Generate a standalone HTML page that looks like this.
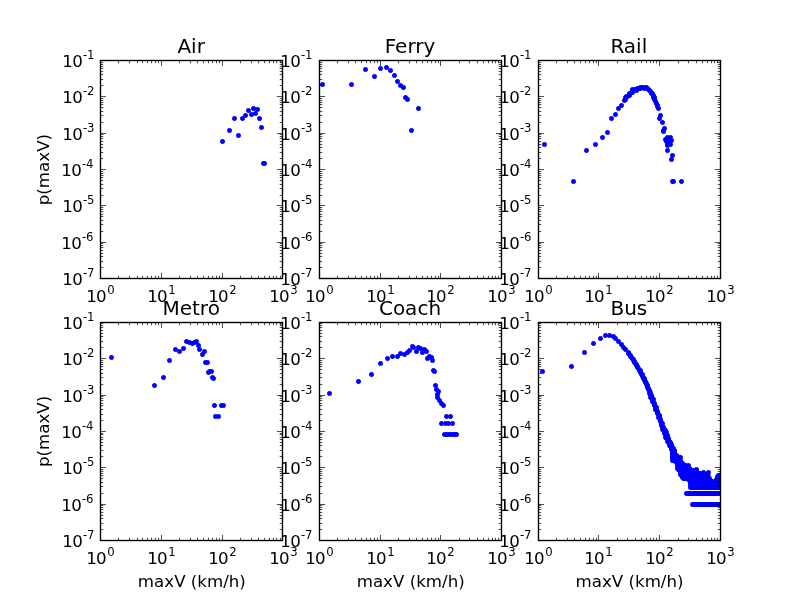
<!DOCTYPE html><html><head><meta charset="utf-8"><title>p(maxV) by mode</title><style>html,body{margin:0;padding:0;background:#fff}svg{display:block}text{font-family:"DejaVu Sans","Liberation Sans",sans-serif;fill:#000}</style></head><body>
<svg width="800" height="600" viewBox="0 0 800 600">
<rect width="800" height="600" fill="#fff"/>
<defs><g id="d" fill="#00f"><rect x="-1" y="-1" width="3" height="3"/><rect x="-1" y="-2" width="1" height="1" fill-opacity="0.769"/><rect x="1" y="-2" width="1" height="1" fill-opacity="0.769"/><rect x="0" y="-2" width="1" height="1" fill-opacity="0.867"/><rect x="-1" y="2" width="1" height="1" fill-opacity="0.769"/><rect x="1" y="2" width="1" height="1" fill-opacity="0.769"/><rect x="0" y="2" width="1" height="1" fill-opacity="0.867"/><rect x="-2" y="-1" width="1" height="1" fill-opacity="0.769"/><rect x="-2" y="1" width="1" height="1" fill-opacity="0.769"/><rect x="-2" y="0" width="1" height="1" fill-opacity="0.867"/><rect x="2" y="-1" width="1" height="1" fill-opacity="0.769"/><rect x="2" y="1" width="1" height="1" fill-opacity="0.769"/><rect x="2" y="0" width="1" height="1" fill-opacity="0.867"/><rect x="-2" y="-2" width="1" height="1" fill-opacity="0.086"/><rect x="2" y="-2" width="1" height="1" fill-opacity="0.086"/><rect x="-2" y="2" width="1" height="1" fill-opacity="0.086"/><rect x="2" y="2" width="1" height="1" fill-opacity="0.086"/></g></defs>
<clipPath id="c0"><rect x="100" y="60" width="182.353" height="218.182"/></clipPath>
<g clip-path="url(#c0)"><use href="#d" x="222" y="141"/><use href="#d" x="229" y="130"/><use href="#d" x="234" y="118"/><use href="#d" x="238" y="135"/><use href="#d" x="242" y="118"/><use href="#d" x="245" y="115"/><use href="#d" x="248" y="110"/><use href="#d" x="251" y="114"/><use href="#d" x="253" y="108"/><use href="#d" x="255" y="113"/><use href="#d" x="257" y="109"/><use href="#d" x="259" y="118"/><use href="#d" x="261" y="127"/><use href="#d" x="263" y="163"/><use href="#d" x="264" y="163"/></g>
<path fill="none" stroke="#000" stroke-width="0.694" d="M100.5 278.5L100.5 272.94M100.5 60.5L100.5 66.06M118.5 278.5L118.5 275.72M118.5 60.5L118.5 63.28M129.5 278.5L129.5 275.72M129.5 60.5L129.5 63.28M137.5 278.5L137.5 275.72M137.5 60.5L137.5 63.28M142.5 278.5L142.5 275.72M142.5 60.5L142.5 63.28M147.5 278.5L147.5 275.72M147.5 60.5L147.5 63.28M151.5 278.5L151.5 275.72M151.5 60.5L151.5 63.28M155.5 278.5L155.5 275.72M155.5 60.5L155.5 63.28M158.5 278.5L158.5 275.72M158.5 60.5L158.5 63.28M161.5 278.5L161.5 272.94M161.5 60.5L161.5 66.06M179.5 278.5L179.5 275.72M179.5 60.5L179.5 63.28M190.5 278.5L190.5 275.72M190.5 60.5L190.5 63.28M197.5 278.5L197.5 275.72M197.5 60.5L197.5 63.28M203.5 278.5L203.5 275.72M203.5 60.5L203.5 63.28M208.5 278.5L208.5 275.72M208.5 60.5L208.5 63.28M212.5 278.5L212.5 275.72M212.5 60.5L212.5 63.28M216.5 278.5L216.5 275.72M216.5 60.5L216.5 63.28M219.5 278.5L219.5 275.72M219.5 60.5L219.5 63.28M222.5 278.5L222.5 272.94M222.5 60.5L222.5 66.06M240.5 278.5L240.5 275.72M240.5 60.5L240.5 63.28M251.5 278.5L251.5 275.72M251.5 60.5L251.5 63.28M258.5 278.5L258.5 275.72M258.5 60.5L258.5 63.28M264.5 278.5L264.5 275.72M264.5 60.5L264.5 63.28M269.5 278.5L269.5 275.72M269.5 60.5L269.5 63.28M273.5 278.5L273.5 275.72M273.5 60.5L273.5 63.28M276.5 278.5L276.5 275.72M276.5 60.5L276.5 63.28M280.5 278.5L280.5 275.72M280.5 60.5L280.5 63.28M282.5 278.5L282.5 272.94M282.5 60.5L282.5 66.06M100.5 278.5L106.06 278.5M282.5 278.5L276.94 278.5M100.5 267.5L103.28 267.5M282.5 267.5L279.72 267.5M100.5 261.5L103.28 261.5M282.5 261.5L279.72 261.5M100.5 256.5L103.28 256.5M282.5 256.5L279.72 256.5M100.5 253.5L103.28 253.5M282.5 253.5L279.72 253.5M100.5 250.5L103.28 250.5M282.5 250.5L279.72 250.5M100.5 247.5L103.28 247.5M282.5 247.5L279.72 247.5M100.5 245.5L103.28 245.5M282.5 245.5L279.72 245.5M100.5 243.5L103.28 243.5M282.5 243.5L279.72 243.5M100.5 242.5L106.06 242.5M282.5 242.5L276.94 242.5M100.5 231.5L103.28 231.5M282.5 231.5L279.72 231.5M100.5 224.5L103.28 224.5M282.5 224.5L279.72 224.5M100.5 220.5L103.28 220.5M282.5 220.5L279.72 220.5M100.5 216.5L103.28 216.5M282.5 216.5L279.72 216.5M100.5 214.5L103.28 214.5M282.5 214.5L279.72 214.5M100.5 211.5L103.28 211.5M282.5 211.5L279.72 211.5M100.5 209.5L103.28 209.5M282.5 209.5L279.72 209.5M100.5 207.5L103.28 207.5M282.5 207.5L279.72 207.5M100.5 205.5L106.06 205.5M282.5 205.5L276.94 205.5M100.5 195.5L103.28 195.5M282.5 195.5L279.72 195.5M100.5 188.5L103.28 188.5M282.5 188.5L279.72 188.5M100.5 184.5L103.28 184.5M282.5 184.5L279.72 184.5M100.5 180.5L103.28 180.5M282.5 180.5L279.72 180.5M100.5 177.5L103.28 177.5M282.5 177.5L279.72 177.5M100.5 175.5L103.28 175.5M282.5 175.5L279.72 175.5M100.5 173.5L103.28 173.5M282.5 173.5L279.72 173.5M100.5 171.5L103.28 171.5M282.5 171.5L279.72 171.5M100.5 169.5L106.06 169.5M282.5 169.5L276.94 169.5M100.5 158.5L103.28 158.5M282.5 158.5L279.72 158.5M100.5 152.5L103.28 152.5M282.5 152.5L279.72 152.5M100.5 147.5L103.28 147.5M282.5 147.5L279.72 147.5M100.5 144.5L103.28 144.5M282.5 144.5L279.72 144.5M100.5 141.5L103.28 141.5M282.5 141.5L279.72 141.5M100.5 138.5L103.28 138.5M282.5 138.5L279.72 138.5M100.5 136.5L103.28 136.5M282.5 136.5L279.72 136.5M100.5 134.5L103.28 134.5M282.5 134.5L279.72 134.5M100.5 133.5L106.06 133.5M282.5 133.5L276.94 133.5M100.5 122.5L103.28 122.5M282.5 122.5L279.72 122.5M100.5 115.5L103.28 115.5M282.5 115.5L279.72 115.5M100.5 111.5L103.28 111.5M282.5 111.5L279.72 111.5M100.5 107.5L103.28 107.5M282.5 107.5L279.72 107.5M100.5 104.5L103.28 104.5M282.5 104.5L279.72 104.5M100.5 102.5L103.28 102.5M282.5 102.5L279.72 102.5M100.5 100.5L103.28 100.5M282.5 100.5L279.72 100.5M100.5 98.5L103.28 98.5M282.5 98.5L279.72 98.5M100.5 96.5L106.06 96.5M282.5 96.5L276.94 96.5M100.5 85.5L103.28 85.5M282.5 85.5L279.72 85.5M100.5 79.5L103.28 79.5M282.5 79.5L279.72 79.5M100.5 74.5L103.28 74.5M282.5 74.5L279.72 74.5M100.5 71.5L103.28 71.5M282.5 71.5L279.72 71.5M100.5 68.5L103.28 68.5M282.5 68.5L279.72 68.5M100.5 66.5L103.28 66.5M282.5 66.5L279.72 66.5M100.5 64.5L103.28 64.5M282.5 64.5L279.72 64.5M100.5 62.5L103.28 62.5M282.5 62.5L279.72 62.5M100.5 60.5L106.06 60.5M282.5 60.5L276.94 60.5"/>
<rect x="100.5" y="60.5" width="182" height="218" fill="none" stroke="#000" stroke-width="1.389"/>
<text x="94.5" y="285.25" text-anchor="end" font-size="16.67">1<tspan dx="-0.5">0</tspan><tspan font-size="11.67" dy="-8" dx="0">-7</tspan></text>
<text x="93.5" y="249.25" text-anchor="end" font-size="16.67">1<tspan dx="-0.5">0</tspan><tspan font-size="11.67" dy="-8" dx="0">-6</tspan></text>
<text x="94.5" y="212.25" text-anchor="end" font-size="16.67">1<tspan dx="-0.5">0</tspan><tspan font-size="11.67" dy="-8" dx="0">-5</tspan></text>
<text x="93.5" y="176.25" text-anchor="end" font-size="16.67">1<tspan dx="-0.5">0</tspan><tspan font-size="11.67" dy="-8" dx="0">-4</tspan></text>
<text x="94.5" y="140.25" text-anchor="end" font-size="16.67">1<tspan dx="-0.5">0</tspan><tspan font-size="11.67" dy="-8" dx="0">-3</tspan></text>
<text x="94.5" y="103.25" text-anchor="end" font-size="16.67">1<tspan dx="-0.5">0</tspan><tspan font-size="11.67" dy="-8" dx="0">-2</tspan></text>
<text x="94.5" y="67.25" text-anchor="end" font-size="16.67">1<tspan dx="-0.5">0</tspan><tspan font-size="11.67" dy="-8" dx="0">-1</tspan></text>
<text x="100.5" y="302.4" text-anchor="middle" font-size="16.67">1<tspan dx="-0.8">0</tspan><tspan font-size="11.67" dy="-8" dx="0.65">0</tspan></text>
<text x="161.5" y="302.4" text-anchor="middle" font-size="16.67">1<tspan dx="-0.8">0</tspan><tspan font-size="11.67" dy="-8" dx="0.65">1</tspan></text>
<text x="222.5" y="302.4" text-anchor="middle" font-size="16.67">1<tspan dx="-0.8">0</tspan><tspan font-size="11.67" dy="-8" dx="0.65">2</tspan></text>
<text x="283.4" y="302.4" text-anchor="middle" font-size="16.67">1<tspan dx="-0.8">0</tspan><tspan font-size="11.67" dy="-8" dx="0.65">3</tspan></text>
<text x="191.176" y="52.9" text-anchor="middle" font-size="20">Air</text>
<text transform="translate(48.5 169.591) rotate(-90)" text-anchor="middle" font-size="16.67">p(maxV)</text>
<clipPath id="c1"><rect x="318.824" y="60" width="182.353" height="218.182"/></clipPath>
<g clip-path="url(#c1)"><use href="#d" x="322" y="84"/><use href="#d" x="351" y="84"/><use href="#d" x="365" y="69"/><use href="#d" x="374" y="76"/><use href="#d" x="380" y="68"/><use href="#d" x="386" y="67"/><use href="#d" x="390" y="70"/><use href="#d" x="394" y="75"/><use href="#d" x="397" y="81"/><use href="#d" x="400" y="85"/><use href="#d" x="403" y="87"/><use href="#d" x="405" y="97"/><use href="#d" x="407" y="99"/><use href="#d" x="411" y="130"/><use href="#d" x="418" y="108"/></g>
<path fill="none" stroke="#000" stroke-width="0.694" d="M319.5 278.5L319.5 272.94M319.5 60.5L319.5 66.06M337.5 278.5L337.5 275.72M337.5 60.5L337.5 63.28M348.5 278.5L348.5 275.72M348.5 60.5L348.5 63.28M355.5 278.5L355.5 275.72M355.5 60.5L355.5 63.28M361.5 278.5L361.5 275.72M361.5 60.5L361.5 63.28M366.5 278.5L366.5 275.72M366.5 60.5L366.5 63.28M370.5 278.5L370.5 275.72M370.5 60.5L370.5 63.28M374.5 278.5L374.5 275.72M374.5 60.5L374.5 63.28M377.5 278.5L377.5 275.72M377.5 60.5L377.5 63.28M380.5 278.5L380.5 272.94M380.5 60.5L380.5 66.06M398.5 278.5L398.5 275.72M398.5 60.5L398.5 63.28M409.5 278.5L409.5 275.72M409.5 60.5L409.5 63.28M416.5 278.5L416.5 275.72M416.5 60.5L416.5 63.28M422.5 278.5L422.5 275.72M422.5 60.5L422.5 63.28M427.5 278.5L427.5 275.72M427.5 60.5L427.5 63.28M431.5 278.5L431.5 275.72M431.5 60.5L431.5 63.28M435.5 278.5L435.5 275.72M435.5 60.5L435.5 63.28M438.5 278.5L438.5 275.72M438.5 60.5L438.5 63.28M440.5 278.5L440.5 272.94M440.5 60.5L440.5 66.06M459.5 278.5L459.5 275.72M459.5 60.5L459.5 63.28M469.5 278.5L469.5 275.72M469.5 60.5L469.5 63.28M477.5 278.5L477.5 275.72M477.5 60.5L477.5 63.28M483.5 278.5L483.5 275.72M483.5 60.5L483.5 63.28M488.5 278.5L488.5 275.72M488.5 60.5L488.5 63.28M492.5 278.5L492.5 275.72M492.5 60.5L492.5 63.28M495.5 278.5L495.5 275.72M495.5 60.5L495.5 63.28M498.5 278.5L498.5 275.72M498.5 60.5L498.5 63.28M501.5 278.5L501.5 272.94M501.5 60.5L501.5 66.06M319.5 278.5L325.06 278.5M501.5 278.5L495.94 278.5M319.5 267.5L322.28 267.5M501.5 267.5L498.72 267.5M319.5 261.5L322.28 261.5M501.5 261.5L498.72 261.5M319.5 256.5L322.28 256.5M501.5 256.5L498.72 256.5M319.5 253.5L322.28 253.5M501.5 253.5L498.72 253.5M319.5 250.5L322.28 250.5M501.5 250.5L498.72 250.5M319.5 247.5L322.28 247.5M501.5 247.5L498.72 247.5M319.5 245.5L322.28 245.5M501.5 245.5L498.72 245.5M319.5 243.5L322.28 243.5M501.5 243.5L498.72 243.5M319.5 242.5L325.06 242.5M501.5 242.5L495.94 242.5M319.5 231.5L322.28 231.5M501.5 231.5L498.72 231.5M319.5 224.5L322.28 224.5M501.5 224.5L498.72 224.5M319.5 220.5L322.28 220.5M501.5 220.5L498.72 220.5M319.5 216.5L322.28 216.5M501.5 216.5L498.72 216.5M319.5 214.5L322.28 214.5M501.5 214.5L498.72 214.5M319.5 211.5L322.28 211.5M501.5 211.5L498.72 211.5M319.5 209.5L322.28 209.5M501.5 209.5L498.72 209.5M319.5 207.5L322.28 207.5M501.5 207.5L498.72 207.5M319.5 205.5L325.06 205.5M501.5 205.5L495.94 205.5M319.5 195.5L322.28 195.5M501.5 195.5L498.72 195.5M319.5 188.5L322.28 188.5M501.5 188.5L498.72 188.5M319.5 184.5L322.28 184.5M501.5 184.5L498.72 184.5M319.5 180.5L322.28 180.5M501.5 180.5L498.72 180.5M319.5 177.5L322.28 177.5M501.5 177.5L498.72 177.5M319.5 175.5L322.28 175.5M501.5 175.5L498.72 175.5M319.5 173.5L322.28 173.5M501.5 173.5L498.72 173.5M319.5 171.5L322.28 171.5M501.5 171.5L498.72 171.5M319.5 169.5L325.06 169.5M501.5 169.5L495.94 169.5M319.5 158.5L322.28 158.5M501.5 158.5L498.72 158.5M319.5 152.5L322.28 152.5M501.5 152.5L498.72 152.5M319.5 147.5L322.28 147.5M501.5 147.5L498.72 147.5M319.5 144.5L322.28 144.5M501.5 144.5L498.72 144.5M319.5 141.5L322.28 141.5M501.5 141.5L498.72 141.5M319.5 138.5L322.28 138.5M501.5 138.5L498.72 138.5M319.5 136.5L322.28 136.5M501.5 136.5L498.72 136.5M319.5 134.5L322.28 134.5M501.5 134.5L498.72 134.5M319.5 133.5L325.06 133.5M501.5 133.5L495.94 133.5M319.5 122.5L322.28 122.5M501.5 122.5L498.72 122.5M319.5 115.5L322.28 115.5M501.5 115.5L498.72 115.5M319.5 111.5L322.28 111.5M501.5 111.5L498.72 111.5M319.5 107.5L322.28 107.5M501.5 107.5L498.72 107.5M319.5 104.5L322.28 104.5M501.5 104.5L498.72 104.5M319.5 102.5L322.28 102.5M501.5 102.5L498.72 102.5M319.5 100.5L322.28 100.5M501.5 100.5L498.72 100.5M319.5 98.5L322.28 98.5M501.5 98.5L498.72 98.5M319.5 96.5L325.06 96.5M501.5 96.5L495.94 96.5M319.5 85.5L322.28 85.5M501.5 85.5L498.72 85.5M319.5 79.5L322.28 79.5M501.5 79.5L498.72 79.5M319.5 74.5L322.28 74.5M501.5 74.5L498.72 74.5M319.5 71.5L322.28 71.5M501.5 71.5L498.72 71.5M319.5 68.5L322.28 68.5M501.5 68.5L498.72 68.5M319.5 66.5L322.28 66.5M501.5 66.5L498.72 66.5M319.5 64.5L322.28 64.5M501.5 64.5L498.72 64.5M319.5 62.5L322.28 62.5M501.5 62.5L498.72 62.5M319.5 60.5L325.06 60.5M501.5 60.5L495.94 60.5"/>
<rect x="319.5" y="60.5" width="182" height="218" fill="none" stroke="#000" stroke-width="1.389"/>
<text x="312.5" y="285.25" text-anchor="end" font-size="16.67">1<tspan dx="-0.5">0</tspan><tspan font-size="11.67" dy="-8" dx="0">-7</tspan></text>
<text x="312.5" y="249.25" text-anchor="end" font-size="16.67">1<tspan dx="-0.5">0</tspan><tspan font-size="11.67" dy="-8" dx="0">-6</tspan></text>
<text x="312.5" y="212.25" text-anchor="end" font-size="16.67">1<tspan dx="-0.5">0</tspan><tspan font-size="11.67" dy="-8" dx="0">-5</tspan></text>
<text x="312.5" y="176.25" text-anchor="end" font-size="16.67">1<tspan dx="-0.5">0</tspan><tspan font-size="11.67" dy="-8" dx="0">-4</tspan></text>
<text x="312.5" y="140.25" text-anchor="end" font-size="16.67">1<tspan dx="-0.5">0</tspan><tspan font-size="11.67" dy="-8" dx="0">-3</tspan></text>
<text x="312.5" y="103.25" text-anchor="end" font-size="16.67">1<tspan dx="-0.5">0</tspan><tspan font-size="11.67" dy="-8" dx="0">-2</tspan></text>
<text x="312.5" y="67.25" text-anchor="end" font-size="16.67">1<tspan dx="-0.5">0</tspan><tspan font-size="11.67" dy="-8" dx="0">-1</tspan></text>
<text x="319.5" y="302.4" text-anchor="middle" font-size="16.67">1<tspan dx="-0.8">0</tspan><tspan font-size="11.67" dy="-8" dx="0.65">0</tspan></text>
<text x="380.5" y="302.4" text-anchor="middle" font-size="16.67">1<tspan dx="-0.8">0</tspan><tspan font-size="11.67" dy="-8" dx="0.65">1</tspan></text>
<text x="440.5" y="302.4" text-anchor="middle" font-size="16.67">1<tspan dx="-0.8">0</tspan><tspan font-size="11.67" dy="-8" dx="0.65">2</tspan></text>
<text x="501.5" y="302.4" text-anchor="middle" font-size="16.67">1<tspan dx="-0.8">0</tspan><tspan font-size="11.67" dy="-8" dx="0.65">3</tspan></text>
<text x="410" y="52.9" text-anchor="middle" font-size="20">Ferry</text>
<clipPath id="c2"><rect x="537.647" y="60" width="182.353" height="218.182"/></clipPath>
<g clip-path="url(#c2)"><use href="#d" x="544" y="144"/><use href="#d" x="573" y="181"/><use href="#d" x="586" y="150"/><use href="#d" x="595" y="144"/><use href="#d" x="602" y="137"/><use href="#d" x="607" y="132"/><use href="#d" x="611" y="118"/><use href="#d" x="615" y="114"/><use href="#d" x="618" y="108"/><use href="#d" x="621" y="105"/><use href="#d" x="624" y="100"/><use href="#d" x="625" y="97"/><use href="#d" x="625" y="99"/><use href="#d" x="626" y="96"/><use href="#d" x="627" y="96"/><use href="#d" x="629" y="93"/><use href="#d" x="629" y="94"/><use href="#d" x="629" y="95"/><use href="#d" x="631" y="92"/><use href="#d" x="632" y="89"/><use href="#d" x="632" y="90"/><use href="#d" x="632" y="92"/><use href="#d" x="634" y="89"/><use href="#d" x="636" y="89"/><use href="#d" x="636" y="90"/><use href="#d" x="637" y="88"/><use href="#d" x="638" y="88"/><use href="#d" x="640" y="87"/><use href="#d" x="640" y="88"/><use href="#d" x="641" y="87"/><use href="#d" x="642" y="87"/><use href="#d" x="644" y="88"/><use href="#d" x="645" y="87"/><use href="#d" x="646" y="87"/><use href="#d" x="647" y="88"/><use href="#d" x="648" y="89"/><use href="#d" x="649" y="90"/><use href="#d" x="650" y="91"/><use href="#d" x="651" y="93"/><use href="#d" x="652" y="93"/><use href="#d" x="653" y="95"/><use href="#d" x="653" y="97"/><use href="#d" x="654" y="97"/><use href="#d" x="654" y="99"/><use href="#d" x="655" y="101"/><use href="#d" x="656" y="103"/><use href="#d" x="657" y="105"/><use href="#d" x="657" y="106"/><use href="#d" x="658" y="108"/><use href="#d" x="659" y="118"/><use href="#d" x="660" y="115"/><use href="#d" x="662" y="122"/><use href="#d" x="663" y="130"/><use href="#d" x="663" y="131"/><use href="#d" x="664" y="128"/><use href="#d" x="665" y="139"/><use href="#d" x="666" y="141"/><use href="#d" x="667" y="137"/><use href="#d" x="667" y="144"/><use href="#d" x="667" y="145"/><use href="#d" x="667" y="150"/><use href="#d" x="668" y="139"/><use href="#d" x="669" y="142"/><use href="#d" x="670" y="137"/><use href="#d" x="670" y="144"/><use href="#d" x="671" y="140"/><use href="#d" x="671" y="159"/><use href="#d" x="672" y="155"/><use href="#d" x="672" y="181"/><use href="#d" x="673" y="181"/><use href="#d" x="681" y="181"/></g>
<path fill="none" stroke="#000" stroke-width="0.694" d="M538.5 278.5L538.5 272.94M538.5 60.5L538.5 66.06M556.5 278.5L556.5 275.72M556.5 60.5L556.5 63.28M567.5 278.5L567.5 275.72M567.5 60.5L567.5 63.28M574.5 278.5L574.5 275.72M574.5 60.5L574.5 63.28M580.5 278.5L580.5 275.72M580.5 60.5L580.5 63.28M585.5 278.5L585.5 275.72M585.5 60.5L585.5 63.28M589.5 278.5L589.5 275.72M589.5 60.5L589.5 63.28M593.5 278.5L593.5 275.72M593.5 60.5L593.5 63.28M596.5 278.5L596.5 275.72M596.5 60.5L596.5 63.28M598.5 278.5L598.5 272.94M598.5 60.5L598.5 66.06M617.5 278.5L617.5 275.72M617.5 60.5L617.5 63.28M627.5 278.5L627.5 275.72M627.5 60.5L627.5 63.28M635.5 278.5L635.5 275.72M635.5 60.5L635.5 63.28M641.5 278.5L641.5 275.72M641.5 60.5L641.5 63.28M646.5 278.5L646.5 275.72M646.5 60.5L646.5 63.28M650.5 278.5L650.5 275.72M650.5 60.5L650.5 63.28M653.5 278.5L653.5 275.72M653.5 60.5L653.5 63.28M656.5 278.5L656.5 275.72M656.5 60.5L656.5 63.28M659.5 278.5L659.5 272.94M659.5 60.5L659.5 66.06M678.5 278.5L678.5 275.72M678.5 60.5L678.5 63.28M688.5 278.5L688.5 275.72M688.5 60.5L688.5 63.28M696.5 278.5L696.5 275.72M696.5 60.5L696.5 63.28M702.5 278.5L702.5 275.72M702.5 60.5L702.5 63.28M707.5 278.5L707.5 275.72M707.5 60.5L707.5 63.28M711.5 278.5L711.5 275.72M711.5 60.5L711.5 63.28M714.5 278.5L714.5 275.72M714.5 60.5L714.5 63.28M717.5 278.5L717.5 275.72M717.5 60.5L717.5 63.28M720.5 278.5L720.5 272.94M720.5 60.5L720.5 66.06M538.5 278.5L544.06 278.5M720.5 278.5L714.94 278.5M538.5 267.5L541.28 267.5M720.5 267.5L717.72 267.5M538.5 261.5L541.28 261.5M720.5 261.5L717.72 261.5M538.5 256.5L541.28 256.5M720.5 256.5L717.72 256.5M538.5 253.5L541.28 253.5M720.5 253.5L717.72 253.5M538.5 250.5L541.28 250.5M720.5 250.5L717.72 250.5M538.5 247.5L541.28 247.5M720.5 247.5L717.72 247.5M538.5 245.5L541.28 245.5M720.5 245.5L717.72 245.5M538.5 243.5L541.28 243.5M720.5 243.5L717.72 243.5M538.5 242.5L544.06 242.5M720.5 242.5L714.94 242.5M538.5 231.5L541.28 231.5M720.5 231.5L717.72 231.5M538.5 224.5L541.28 224.5M720.5 224.5L717.72 224.5M538.5 220.5L541.28 220.5M720.5 220.5L717.72 220.5M538.5 216.5L541.28 216.5M720.5 216.5L717.72 216.5M538.5 214.5L541.28 214.5M720.5 214.5L717.72 214.5M538.5 211.5L541.28 211.5M720.5 211.5L717.72 211.5M538.5 209.5L541.28 209.5M720.5 209.5L717.72 209.5M538.5 207.5L541.28 207.5M720.5 207.5L717.72 207.5M538.5 205.5L544.06 205.5M720.5 205.5L714.94 205.5M538.5 195.5L541.28 195.5M720.5 195.5L717.72 195.5M538.5 188.5L541.28 188.5M720.5 188.5L717.72 188.5M538.5 184.5L541.28 184.5M720.5 184.5L717.72 184.5M538.5 180.5L541.28 180.5M720.5 180.5L717.72 180.5M538.5 177.5L541.28 177.5M720.5 177.5L717.72 177.5M538.5 175.5L541.28 175.5M720.5 175.5L717.72 175.5M538.5 173.5L541.28 173.5M720.5 173.5L717.72 173.5M538.5 171.5L541.28 171.5M720.5 171.5L717.72 171.5M538.5 169.5L544.06 169.5M720.5 169.5L714.94 169.5M538.5 158.5L541.28 158.5M720.5 158.5L717.72 158.5M538.5 152.5L541.28 152.5M720.5 152.5L717.72 152.5M538.5 147.5L541.28 147.5M720.5 147.5L717.72 147.5M538.5 144.5L541.28 144.5M720.5 144.5L717.72 144.5M538.5 141.5L541.28 141.5M720.5 141.5L717.72 141.5M538.5 138.5L541.28 138.5M720.5 138.5L717.72 138.5M538.5 136.5L541.28 136.5M720.5 136.5L717.72 136.5M538.5 134.5L541.28 134.5M720.5 134.5L717.72 134.5M538.5 133.5L544.06 133.5M720.5 133.5L714.94 133.5M538.5 122.5L541.28 122.5M720.5 122.5L717.72 122.5M538.5 115.5L541.28 115.5M720.5 115.5L717.72 115.5M538.5 111.5L541.28 111.5M720.5 111.5L717.72 111.5M538.5 107.5L541.28 107.5M720.5 107.5L717.72 107.5M538.5 104.5L541.28 104.5M720.5 104.5L717.72 104.5M538.5 102.5L541.28 102.5M720.5 102.5L717.72 102.5M538.5 100.5L541.28 100.5M720.5 100.5L717.72 100.5M538.5 98.5L541.28 98.5M720.5 98.5L717.72 98.5M538.5 96.5L544.06 96.5M720.5 96.5L714.94 96.5M538.5 85.5L541.28 85.5M720.5 85.5L717.72 85.5M538.5 79.5L541.28 79.5M720.5 79.5L717.72 79.5M538.5 74.5L541.28 74.5M720.5 74.5L717.72 74.5M538.5 71.5L541.28 71.5M720.5 71.5L717.72 71.5M538.5 68.5L541.28 68.5M720.5 68.5L717.72 68.5M538.5 66.5L541.28 66.5M720.5 66.5L717.72 66.5M538.5 64.5L541.28 64.5M720.5 64.5L717.72 64.5M538.5 62.5L541.28 62.5M720.5 62.5L717.72 62.5M538.5 60.5L544.06 60.5M720.5 60.5L714.94 60.5"/>
<rect x="538.5" y="60.5" width="182" height="218" fill="none" stroke="#000" stroke-width="1.389"/>
<text x="531.5" y="285.25" text-anchor="end" font-size="16.67">1<tspan dx="-0.5">0</tspan><tspan font-size="11.67" dy="-8" dx="0">-7</tspan></text>
<text x="531.5" y="249.25" text-anchor="end" font-size="16.67">1<tspan dx="-0.5">0</tspan><tspan font-size="11.67" dy="-8" dx="0">-6</tspan></text>
<text x="531.5" y="212.25" text-anchor="end" font-size="16.67">1<tspan dx="-0.5">0</tspan><tspan font-size="11.67" dy="-8" dx="0">-5</tspan></text>
<text x="531.5" y="176.25" text-anchor="end" font-size="16.67">1<tspan dx="-0.5">0</tspan><tspan font-size="11.67" dy="-8" dx="0">-4</tspan></text>
<text x="531.5" y="140.25" text-anchor="end" font-size="16.67">1<tspan dx="-0.5">0</tspan><tspan font-size="11.67" dy="-8" dx="0">-3</tspan></text>
<text x="531.5" y="103.25" text-anchor="end" font-size="16.67">1<tspan dx="-0.5">0</tspan><tspan font-size="11.67" dy="-8" dx="0">-2</tspan></text>
<text x="531.5" y="67.25" text-anchor="end" font-size="16.67">1<tspan dx="-0.5">0</tspan><tspan font-size="11.67" dy="-8" dx="0">-1</tspan></text>
<text x="538.5" y="302.4" text-anchor="middle" font-size="16.67">1<tspan dx="-0.8">0</tspan><tspan font-size="11.67" dy="-8" dx="0.65">0</tspan></text>
<text x="598.5" y="302.4" text-anchor="middle" font-size="16.67">1<tspan dx="-0.8">0</tspan><tspan font-size="11.67" dy="-8" dx="0.65">1</tspan></text>
<text x="659.5" y="302.4" text-anchor="middle" font-size="16.67">1<tspan dx="-0.8">0</tspan><tspan font-size="11.67" dy="-8" dx="0.65">2</tspan></text>
<text x="720.5" y="302.4" text-anchor="middle" font-size="16.67">1<tspan dx="-0.8">0</tspan><tspan font-size="11.67" dy="-8" dx="0.65">3</tspan></text>
<text x="628.824" y="52.9" text-anchor="middle" font-size="20">Rail</text>
<clipPath id="c3"><rect x="100" y="321.818" width="182.353" height="218.182"/></clipPath>
<g clip-path="url(#c3)"><use href="#d" x="111" y="357"/><use href="#d" x="154" y="385"/><use href="#d" x="163" y="377"/><use href="#d" x="169" y="360"/><use href="#d" x="175" y="349"/><use href="#d" x="179" y="351"/><use href="#d" x="183" y="348"/><use href="#d" x="186" y="341"/><use href="#d" x="189" y="342"/><use href="#d" x="192" y="343"/><use href="#d" x="194" y="342"/><use href="#d" x="196" y="341"/><use href="#d" x="198" y="345"/><use href="#d" x="199" y="349"/><use href="#d" x="204" y="351"/><use href="#d" x="202" y="354"/><use href="#d" x="205" y="362"/><use href="#d" x="207" y="362"/><use href="#d" x="208" y="372"/><use href="#d" x="209" y="371"/><use href="#d" x="211" y="371"/><use href="#d" x="212" y="377"/><use href="#d" x="213" y="378"/><use href="#d" x="214" y="405"/><use href="#d" x="221" y="405"/><use href="#d" x="223" y="405"/><use href="#d" x="215" y="416"/><use href="#d" x="218" y="416"/></g>
<path fill="none" stroke="#000" stroke-width="0.694" d="M100.5 540.5L100.5 534.94M100.5 322.5L100.5 328.06M118.5 540.5L118.5 537.72M118.5 322.5L118.5 325.28M129.5 540.5L129.5 537.72M129.5 322.5L129.5 325.28M137.5 540.5L137.5 537.72M137.5 322.5L137.5 325.28M142.5 540.5L142.5 537.72M142.5 322.5L142.5 325.28M147.5 540.5L147.5 537.72M147.5 322.5L147.5 325.28M151.5 540.5L151.5 537.72M151.5 322.5L151.5 325.28M155.5 540.5L155.5 537.72M155.5 322.5L155.5 325.28M158.5 540.5L158.5 537.72M158.5 322.5L158.5 325.28M161.5 540.5L161.5 534.94M161.5 322.5L161.5 328.06M179.5 540.5L179.5 537.72M179.5 322.5L179.5 325.28M190.5 540.5L190.5 537.72M190.5 322.5L190.5 325.28M197.5 540.5L197.5 537.72M197.5 322.5L197.5 325.28M203.5 540.5L203.5 537.72M203.5 322.5L203.5 325.28M208.5 540.5L208.5 537.72M208.5 322.5L208.5 325.28M212.5 540.5L212.5 537.72M212.5 322.5L212.5 325.28M216.5 540.5L216.5 537.72M216.5 322.5L216.5 325.28M219.5 540.5L219.5 537.72M219.5 322.5L219.5 325.28M222.5 540.5L222.5 534.94M222.5 322.5L222.5 328.06M240.5 540.5L240.5 537.72M240.5 322.5L240.5 325.28M251.5 540.5L251.5 537.72M251.5 322.5L251.5 325.28M258.5 540.5L258.5 537.72M258.5 322.5L258.5 325.28M264.5 540.5L264.5 537.72M264.5 322.5L264.5 325.28M269.5 540.5L269.5 537.72M269.5 322.5L269.5 325.28M273.5 540.5L273.5 537.72M273.5 322.5L273.5 325.28M276.5 540.5L276.5 537.72M276.5 322.5L276.5 325.28M280.5 540.5L280.5 537.72M280.5 322.5L280.5 325.28M282.5 540.5L282.5 534.94M282.5 322.5L282.5 328.06M100.5 540.5L106.06 540.5M282.5 540.5L276.94 540.5M100.5 529.5L103.28 529.5M282.5 529.5L279.72 529.5M100.5 523.5L103.28 523.5M282.5 523.5L279.72 523.5M100.5 518.5L103.28 518.5M282.5 518.5L279.72 518.5M100.5 515.5L103.28 515.5M282.5 515.5L279.72 515.5M100.5 512.5L103.28 512.5M282.5 512.5L279.72 512.5M100.5 509.5L103.28 509.5M282.5 509.5L279.72 509.5M100.5 507.5L103.28 507.5M282.5 507.5L279.72 507.5M100.5 505.5L103.28 505.5M282.5 505.5L279.72 505.5M100.5 504.5L106.06 504.5M282.5 504.5L276.94 504.5M100.5 493.5L103.28 493.5M282.5 493.5L279.72 493.5M100.5 486.5L103.28 486.5M282.5 486.5L279.72 486.5M100.5 482.5L103.28 482.5M282.5 482.5L279.72 482.5M100.5 478.5L103.28 478.5M282.5 478.5L279.72 478.5M100.5 475.5L103.28 475.5M282.5 475.5L279.72 475.5M100.5 473.5L103.28 473.5M282.5 473.5L279.72 473.5M100.5 471.5L103.28 471.5M282.5 471.5L279.72 471.5M100.5 469.5L103.28 469.5M282.5 469.5L279.72 469.5M100.5 467.5L106.06 467.5M282.5 467.5L276.94 467.5M100.5 456.5L103.28 456.5M282.5 456.5L279.72 456.5M100.5 450.5L103.28 450.5M282.5 450.5L279.72 450.5M100.5 445.5L103.28 445.5M282.5 445.5L279.72 445.5M100.5 442.5L103.28 442.5M282.5 442.5L279.72 442.5M100.5 439.5L103.28 439.5M282.5 439.5L279.72 439.5M100.5 437.5L103.28 437.5M282.5 437.5L279.72 437.5M100.5 434.5L103.28 434.5M282.5 434.5L279.72 434.5M100.5 433.5L103.28 433.5M282.5 433.5L279.72 433.5M100.5 431.5L106.06 431.5M282.5 431.5L276.94 431.5M100.5 420.5L103.28 420.5M282.5 420.5L279.72 420.5M100.5 414.5L103.28 414.5M282.5 414.5L279.72 414.5M100.5 409.5L103.28 409.5M282.5 409.5L279.72 409.5M100.5 405.5L103.28 405.5M282.5 405.5L279.72 405.5M100.5 403.5L103.28 403.5M282.5 403.5L279.72 403.5M100.5 400.5L103.28 400.5M282.5 400.5L279.72 400.5M100.5 398.5L103.28 398.5M282.5 398.5L279.72 398.5M100.5 396.5L103.28 396.5M282.5 396.5L279.72 396.5M100.5 395.5L106.06 395.5M282.5 395.5L276.94 395.5M100.5 384.5L103.28 384.5M282.5 384.5L279.72 384.5M100.5 377.5L103.28 377.5M282.5 377.5L279.72 377.5M100.5 373.5L103.28 373.5M282.5 373.5L279.72 373.5M100.5 369.5L103.28 369.5M282.5 369.5L279.72 369.5M100.5 366.5L103.28 366.5M282.5 366.5L279.72 366.5M100.5 364.5L103.28 364.5M282.5 364.5L279.72 364.5M100.5 362.5L103.28 362.5M282.5 362.5L279.72 362.5M100.5 360.5L103.28 360.5M282.5 360.5L279.72 360.5M100.5 358.5L106.06 358.5M282.5 358.5L276.94 358.5M100.5 347.5L103.28 347.5M282.5 347.5L279.72 347.5M100.5 341.5L103.28 341.5M282.5 341.5L279.72 341.5M100.5 336.5L103.28 336.5M282.5 336.5L279.72 336.5M100.5 333.5L103.28 333.5M282.5 333.5L279.72 333.5M100.5 330.5L103.28 330.5M282.5 330.5L279.72 330.5M100.5 327.5L103.28 327.5M282.5 327.5L279.72 327.5M100.5 325.5L103.28 325.5M282.5 325.5L279.72 325.5M100.5 323.5L103.28 323.5M282.5 323.5L279.72 323.5M100.5 322.5L106.06 322.5M282.5 322.5L276.94 322.5"/>
<rect x="100.5" y="322.5" width="182" height="218" fill="none" stroke="#000" stroke-width="1.389"/>
<text x="94.5" y="547.25" text-anchor="end" font-size="16.67">1<tspan dx="-0.5">0</tspan><tspan font-size="11.67" dy="-8" dx="0">-7</tspan></text>
<text x="93.5" y="511.25" text-anchor="end" font-size="16.67">1<tspan dx="-0.5">0</tspan><tspan font-size="11.67" dy="-8" dx="0">-6</tspan></text>
<text x="94.5" y="474.25" text-anchor="end" font-size="16.67">1<tspan dx="-0.5">0</tspan><tspan font-size="11.67" dy="-8" dx="0">-5</tspan></text>
<text x="93.5" y="438.25" text-anchor="end" font-size="16.67">1<tspan dx="-0.5">0</tspan><tspan font-size="11.67" dy="-8" dx="0">-4</tspan></text>
<text x="94.5" y="402.25" text-anchor="end" font-size="16.67">1<tspan dx="-0.5">0</tspan><tspan font-size="11.67" dy="-8" dx="0">-3</tspan></text>
<text x="94.5" y="365.25" text-anchor="end" font-size="16.67">1<tspan dx="-0.5">0</tspan><tspan font-size="11.67" dy="-8" dx="0">-2</tspan></text>
<text x="94.5" y="329.25" text-anchor="end" font-size="16.67">1<tspan dx="-0.5">0</tspan><tspan font-size="11.67" dy="-8" dx="0">-1</tspan></text>
<text x="100.5" y="564.4" text-anchor="middle" font-size="16.67">1<tspan dx="-0.8">0</tspan><tspan font-size="11.67" dy="-8" dx="0.65">0</tspan></text>
<text x="161.5" y="564.4" text-anchor="middle" font-size="16.67">1<tspan dx="-0.8">0</tspan><tspan font-size="11.67" dy="-8" dx="0.65">1</tspan></text>
<text x="222.5" y="564.4" text-anchor="middle" font-size="16.67">1<tspan dx="-0.8">0</tspan><tspan font-size="11.67" dy="-8" dx="0.65">2</tspan></text>
<text x="283.4" y="564.4" text-anchor="middle" font-size="16.67">1<tspan dx="-0.8">0</tspan><tspan font-size="11.67" dy="-8" dx="0.65">3</tspan></text>
<text x="191.176" y="314.9" text-anchor="middle" font-size="20">Metro</text>
<text transform="translate(48.5 431.409) rotate(-90)" text-anchor="middle" font-size="16.67">p(maxV)</text>
<text x="191.876" y="586.9" text-anchor="middle" font-size="16.67">maxV (km/h)</text>
<clipPath id="c4"><rect x="318.824" y="321.818" width="182.353" height="218.182"/></clipPath>
<g clip-path="url(#c4)"><use href="#d" x="329" y="393"/><use href="#d" x="358" y="381"/><use href="#d" x="371" y="374"/><use href="#d" x="380" y="363"/><use href="#d" x="387" y="358"/><use href="#d" x="392" y="356"/><use href="#d" x="397" y="356"/><use href="#d" x="400" y="353"/><use href="#d" x="404" y="354"/><use href="#d" x="407" y="352"/><use href="#d" x="409" y="350"/><use href="#d" x="412" y="346"/><use href="#d" x="413" y="347"/><use href="#d" x="416" y="351"/><use href="#d" x="418" y="347"/><use href="#d" x="420" y="348"/><use href="#d" x="422" y="352"/><use href="#d" x="424" y="349"/><use href="#d" x="426" y="351"/><use href="#d" x="427" y="358"/><use href="#d" x="429" y="356"/><use href="#d" x="431" y="357"/><use href="#d" x="432" y="360"/><use href="#d" x="433" y="370"/><use href="#d" x="434" y="371"/><use href="#d" x="435" y="385"/><use href="#d" x="436" y="389"/><use href="#d" x="438" y="391"/><use href="#d" x="437" y="394"/><use href="#d" x="437" y="397"/><use href="#d" x="439" y="400"/><use href="#d" x="441" y="403"/><use href="#d" x="443" y="405"/><use href="#d" x="446" y="416"/><use href="#d" x="450" y="416"/><use href="#d" x="441" y="423"/><use href="#d" x="445" y="423"/><use href="#d" x="448" y="423"/><use href="#d" x="452" y="423"/><use href="#d" x="444" y="434"/><use href="#d" x="446" y="434"/><use href="#d" x="448" y="434"/><use href="#d" x="450" y="434"/><use href="#d" x="452" y="434"/><use href="#d" x="454" y="434"/><use href="#d" x="456" y="434"/><use href="#d" x="455" y="434"/></g>
<path fill="none" stroke="#000" stroke-width="0.694" d="M319.5 540.5L319.5 534.94M319.5 322.5L319.5 328.06M337.5 540.5L337.5 537.72M337.5 322.5L337.5 325.28M348.5 540.5L348.5 537.72M348.5 322.5L348.5 325.28M355.5 540.5L355.5 537.72M355.5 322.5L355.5 325.28M361.5 540.5L361.5 537.72M361.5 322.5L361.5 325.28M366.5 540.5L366.5 537.72M366.5 322.5L366.5 325.28M370.5 540.5L370.5 537.72M370.5 322.5L370.5 325.28M374.5 540.5L374.5 537.72M374.5 322.5L374.5 325.28M377.5 540.5L377.5 537.72M377.5 322.5L377.5 325.28M380.5 540.5L380.5 534.94M380.5 322.5L380.5 328.06M398.5 540.5L398.5 537.72M398.5 322.5L398.5 325.28M409.5 540.5L409.5 537.72M409.5 322.5L409.5 325.28M416.5 540.5L416.5 537.72M416.5 322.5L416.5 325.28M422.5 540.5L422.5 537.72M422.5 322.5L422.5 325.28M427.5 540.5L427.5 537.72M427.5 322.5L427.5 325.28M431.5 540.5L431.5 537.72M431.5 322.5L431.5 325.28M435.5 540.5L435.5 537.72M435.5 322.5L435.5 325.28M438.5 540.5L438.5 537.72M438.5 322.5L438.5 325.28M440.5 540.5L440.5 534.94M440.5 322.5L440.5 328.06M459.5 540.5L459.5 537.72M459.5 322.5L459.5 325.28M469.5 540.5L469.5 537.72M469.5 322.5L469.5 325.28M477.5 540.5L477.5 537.72M477.5 322.5L477.5 325.28M483.5 540.5L483.5 537.72M483.5 322.5L483.5 325.28M488.5 540.5L488.5 537.72M488.5 322.5L488.5 325.28M492.5 540.5L492.5 537.72M492.5 322.5L492.5 325.28M495.5 540.5L495.5 537.72M495.5 322.5L495.5 325.28M498.5 540.5L498.5 537.72M498.5 322.5L498.5 325.28M501.5 540.5L501.5 534.94M501.5 322.5L501.5 328.06M319.5 540.5L325.06 540.5M501.5 540.5L495.94 540.5M319.5 529.5L322.28 529.5M501.5 529.5L498.72 529.5M319.5 523.5L322.28 523.5M501.5 523.5L498.72 523.5M319.5 518.5L322.28 518.5M501.5 518.5L498.72 518.5M319.5 515.5L322.28 515.5M501.5 515.5L498.72 515.5M319.5 512.5L322.28 512.5M501.5 512.5L498.72 512.5M319.5 509.5L322.28 509.5M501.5 509.5L498.72 509.5M319.5 507.5L322.28 507.5M501.5 507.5L498.72 507.5M319.5 505.5L322.28 505.5M501.5 505.5L498.72 505.5M319.5 504.5L325.06 504.5M501.5 504.5L495.94 504.5M319.5 493.5L322.28 493.5M501.5 493.5L498.72 493.5M319.5 486.5L322.28 486.5M501.5 486.5L498.72 486.5M319.5 482.5L322.28 482.5M501.5 482.5L498.72 482.5M319.5 478.5L322.28 478.5M501.5 478.5L498.72 478.5M319.5 475.5L322.28 475.5M501.5 475.5L498.72 475.5M319.5 473.5L322.28 473.5M501.5 473.5L498.72 473.5M319.5 471.5L322.28 471.5M501.5 471.5L498.72 471.5M319.5 469.5L322.28 469.5M501.5 469.5L498.72 469.5M319.5 467.5L325.06 467.5M501.5 467.5L495.94 467.5M319.5 456.5L322.28 456.5M501.5 456.5L498.72 456.5M319.5 450.5L322.28 450.5M501.5 450.5L498.72 450.5M319.5 445.5L322.28 445.5M501.5 445.5L498.72 445.5M319.5 442.5L322.28 442.5M501.5 442.5L498.72 442.5M319.5 439.5L322.28 439.5M501.5 439.5L498.72 439.5M319.5 437.5L322.28 437.5M501.5 437.5L498.72 437.5M319.5 434.5L322.28 434.5M501.5 434.5L498.72 434.5M319.5 433.5L322.28 433.5M501.5 433.5L498.72 433.5M319.5 431.5L325.06 431.5M501.5 431.5L495.94 431.5M319.5 420.5L322.28 420.5M501.5 420.5L498.72 420.5M319.5 414.5L322.28 414.5M501.5 414.5L498.72 414.5M319.5 409.5L322.28 409.5M501.5 409.5L498.72 409.5M319.5 405.5L322.28 405.5M501.5 405.5L498.72 405.5M319.5 403.5L322.28 403.5M501.5 403.5L498.72 403.5M319.5 400.5L322.28 400.5M501.5 400.5L498.72 400.5M319.5 398.5L322.28 398.5M501.5 398.5L498.72 398.5M319.5 396.5L322.28 396.5M501.5 396.5L498.72 396.5M319.5 395.5L325.06 395.5M501.5 395.5L495.94 395.5M319.5 384.5L322.28 384.5M501.5 384.5L498.72 384.5M319.5 377.5L322.28 377.5M501.5 377.5L498.72 377.5M319.5 373.5L322.28 373.5M501.5 373.5L498.72 373.5M319.5 369.5L322.28 369.5M501.5 369.5L498.72 369.5M319.5 366.5L322.28 366.5M501.5 366.5L498.72 366.5M319.5 364.5L322.28 364.5M501.5 364.5L498.72 364.5M319.5 362.5L322.28 362.5M501.5 362.5L498.72 362.5M319.5 360.5L322.28 360.5M501.5 360.5L498.72 360.5M319.5 358.5L325.06 358.5M501.5 358.5L495.94 358.5M319.5 347.5L322.28 347.5M501.5 347.5L498.72 347.5M319.5 341.5L322.28 341.5M501.5 341.5L498.72 341.5M319.5 336.5L322.28 336.5M501.5 336.5L498.72 336.5M319.5 333.5L322.28 333.5M501.5 333.5L498.72 333.5M319.5 330.5L322.28 330.5M501.5 330.5L498.72 330.5M319.5 327.5L322.28 327.5M501.5 327.5L498.72 327.5M319.5 325.5L322.28 325.5M501.5 325.5L498.72 325.5M319.5 323.5L322.28 323.5M501.5 323.5L498.72 323.5M319.5 322.5L325.06 322.5M501.5 322.5L495.94 322.5"/>
<rect x="319.5" y="322.5" width="182" height="218" fill="none" stroke="#000" stroke-width="1.389"/>
<text x="312.5" y="547.25" text-anchor="end" font-size="16.67">1<tspan dx="-0.5">0</tspan><tspan font-size="11.67" dy="-8" dx="0">-7</tspan></text>
<text x="312.5" y="511.25" text-anchor="end" font-size="16.67">1<tspan dx="-0.5">0</tspan><tspan font-size="11.67" dy="-8" dx="0">-6</tspan></text>
<text x="312.5" y="474.25" text-anchor="end" font-size="16.67">1<tspan dx="-0.5">0</tspan><tspan font-size="11.67" dy="-8" dx="0">-5</tspan></text>
<text x="312.5" y="438.25" text-anchor="end" font-size="16.67">1<tspan dx="-0.5">0</tspan><tspan font-size="11.67" dy="-8" dx="0">-4</tspan></text>
<text x="312.5" y="402.25" text-anchor="end" font-size="16.67">1<tspan dx="-0.5">0</tspan><tspan font-size="11.67" dy="-8" dx="0">-3</tspan></text>
<text x="312.5" y="365.25" text-anchor="end" font-size="16.67">1<tspan dx="-0.5">0</tspan><tspan font-size="11.67" dy="-8" dx="0">-2</tspan></text>
<text x="312.5" y="329.25" text-anchor="end" font-size="16.67">1<tspan dx="-0.5">0</tspan><tspan font-size="11.67" dy="-8" dx="0">-1</tspan></text>
<text x="319.5" y="564.4" text-anchor="middle" font-size="16.67">1<tspan dx="-0.8">0</tspan><tspan font-size="11.67" dy="-8" dx="0.65">0</tspan></text>
<text x="380.5" y="564.4" text-anchor="middle" font-size="16.67">1<tspan dx="-0.8">0</tspan><tspan font-size="11.67" dy="-8" dx="0.65">1</tspan></text>
<text x="440.5" y="564.4" text-anchor="middle" font-size="16.67">1<tspan dx="-0.8">0</tspan><tspan font-size="11.67" dy="-8" dx="0.65">2</tspan></text>
<text x="501.5" y="564.4" text-anchor="middle" font-size="16.67">1<tspan dx="-0.8">0</tspan><tspan font-size="11.67" dy="-8" dx="0.65">3</tspan></text>
<text x="410" y="314.9" text-anchor="middle" font-size="20">Coach</text>
<text x="410.7" y="586.9" text-anchor="middle" font-size="16.67">maxV (km/h)</text>
<clipPath id="c5"><rect x="537.647" y="321.818" width="182.353" height="218.182"/></clipPath>
<g clip-path="url(#c5)"><use href="#d" x="542" y="371"/><use href="#d" x="571" y="366"/><use href="#d" x="584" y="352"/><use href="#d" x="593" y="343"/><use href="#d" x="600" y="338"/><use href="#d" x="605" y="335"/><use href="#d" x="609" y="335"/><use href="#d" x="613" y="336"/><use href="#d" x="615" y="338"/><use href="#d" x="618" y="341"/><use href="#d" x="621" y="344"/><use href="#d" x="623" y="347"/><use href="#d" x="625" y="349"/><use href="#d" x="628" y="352"/><use href="#d" x="628" y="353"/><use href="#d" x="629" y="354"/><use href="#d" x="630" y="355"/><use href="#d" x="630" y="356"/><use href="#d" x="631" y="357"/><use href="#d" x="632" y="358"/><use href="#d" x="633" y="359"/><use href="#d" x="633" y="360"/><use href="#d" x="634" y="361"/><use href="#d" x="634" y="362"/><use href="#d" x="635" y="363"/><use href="#d" x="636" y="364"/><use href="#d" x="636" y="365"/><use href="#d" x="637" y="366"/><use href="#d" x="637" y="367"/><use href="#d" x="638" y="368"/><use href="#d" x="639" y="370"/><use href="#d" x="640" y="370"/><use href="#d" x="640" y="372"/><use href="#d" x="641" y="374"/><use href="#d" x="642" y="374"/><use href="#d" x="642" y="376"/><use href="#d" x="643" y="378"/><use href="#d" x="644" y="378"/><use href="#d" x="644" y="380"/><use href="#d" x="645" y="381"/><use href="#d" x="645" y="382"/><use href="#d" x="646" y="383"/><use href="#d" x="646" y="384"/><use href="#d" x="647" y="385"/><use href="#d" x="647" y="386"/><use href="#d" x="647" y="387"/><use href="#d" x="648" y="388"/><use href="#d" x="648" y="389"/><use href="#d" x="649" y="390"/><use href="#d" x="649" y="391"/><use href="#d" x="649" y="393"/><use href="#d" x="650" y="392"/><use href="#d" x="650" y="394"/><use href="#d" x="650" y="397"/><use href="#d" x="651" y="395"/><use href="#d" x="651" y="396"/><use href="#d" x="652" y="398"/><use href="#d" x="652" y="400"/><use href="#d" x="652" y="401"/><use href="#d" x="653" y="399"/><use href="#d" x="653" y="402"/><use href="#d" x="654" y="403"/><use href="#d" x="654" y="404"/><use href="#d" x="654" y="405"/><use href="#d" x="655" y="406"/><use href="#d" x="655" y="408"/><use href="#d" x="655" y="409"/><use href="#d" x="656" y="407"/><use href="#d" x="656" y="410"/><use href="#d" x="657" y="411"/><use href="#d" x="657" y="412"/><use href="#d" x="657" y="413"/><use href="#d" x="658" y="414"/><use href="#d" x="658" y="417"/><use href="#d" x="659" y="415"/><use href="#d" x="659" y="416"/><use href="#d" x="659" y="418"/><use href="#d" x="660" y="419"/><use href="#d" x="660" y="420"/><use href="#d" x="660" y="421"/><use href="#d" x="661" y="422"/><use href="#d" x="661" y="424"/><use href="#d" x="661" y="425"/><use href="#d" x="662" y="423"/><use href="#d" x="662" y="426"/><use href="#d" x="662" y="429"/><use href="#d" x="663" y="427"/><use href="#d" x="663" y="428"/><use href="#d" x="664" y="429"/><use href="#d" x="664" y="430"/><use href="#d" x="664" y="432"/><use href="#d" x="664" y="433"/><use href="#d" x="665" y="430"/><use href="#d" x="665" y="431"/><use href="#d" x="665" y="434"/><use href="#d" x="665" y="437"/><use href="#d" x="666" y="432"/><use href="#d" x="666" y="434"/><use href="#d" x="666" y="435"/><use href="#d" x="666" y="436"/><use href="#d" x="666" y="438"/><use href="#d" x="667" y="435"/><use href="#d" x="667" y="436"/><use href="#d" x="667" y="441"/><use href="#d" x="668" y="438"/><use href="#d" x="668" y="439"/><use href="#d" x="668" y="440"/><use href="#d" x="668" y="442"/><use href="#d" x="669" y="441"/><use href="#d" x="669" y="445"/><use href="#d" x="670" y="442"/><use href="#d" x="670" y="443"/><use href="#d" x="670" y="444"/><use href="#d" x="670" y="446"/><use href="#d" x="671" y="444"/><use href="#d" x="671" y="445"/><use href="#d" x="671" y="448"/><use href="#d" x="671" y="449"/><use href="#d" x="672" y="447"/><use href="#d" x="672" y="448"/><use href="#d" x="672" y="450"/><use href="#d" x="672" y="452"/><use href="#d" x="672" y="453"/><use href="#d" x="672" y="454"/><use href="#d" x="672" y="456"/><use href="#d" x="672" y="458"/><use href="#d" x="672" y="460"/><use href="#d" x="673" y="448"/><use href="#d" x="673" y="450"/><use href="#d" x="673" y="451"/><use href="#d" x="673" y="452"/><use href="#d" x="673" y="454"/><use href="#d" x="673" y="456"/><use href="#d" x="673" y="458"/><use href="#d" x="673" y="460"/><use href="#d" x="674" y="450"/><use href="#d" x="674" y="451"/><use href="#d" x="674" y="452"/><use href="#d" x="674" y="453"/><use href="#d" x="674" y="454"/><use href="#d" x="674" y="455"/><use href="#d" x="674" y="456"/><use href="#d" x="674" y="458"/><use href="#d" x="674" y="460"/><use href="#d" x="675" y="455"/><use href="#d" x="675" y="456"/><use href="#d" x="675" y="457"/><use href="#d" x="675" y="459"/><use href="#d" x="675" y="461"/><use href="#d" x="676" y="455"/><use href="#d" x="676" y="457"/><use href="#d" x="676" y="459"/><use href="#d" x="676" y="461"/><use href="#d" x="676" y="462"/><use href="#d" x="677" y="456"/><use href="#d" x="677" y="458"/><use href="#d" x="677" y="460"/><use href="#d" x="677" y="462"/><use href="#d" x="677" y="464"/><use href="#d" x="677" y="466"/><use href="#d" x="677" y="468"/><use href="#d" x="678" y="457"/><use href="#d" x="678" y="459"/><use href="#d" x="678" y="461"/><use href="#d" x="678" y="463"/><use href="#d" x="678" y="465"/><use href="#d" x="678" y="467"/><use href="#d" x="678" y="469"/><use href="#d" x="679" y="457"/><use href="#d" x="679" y="459"/><use href="#d" x="679" y="461"/><use href="#d" x="679" y="463"/><use href="#d" x="679" y="465"/><use href="#d" x="679" y="467"/><use href="#d" x="679" y="469"/><use href="#d" x="679" y="470"/><use href="#d" x="680" y="457"/><use href="#d" x="680" y="460"/><use href="#d" x="680" y="462"/><use href="#d" x="680" y="464"/><use href="#d" x="680" y="466"/><use href="#d" x="680" y="468"/><use href="#d" x="680" y="470"/><use href="#d" x="680" y="472"/><use href="#d" x="680" y="474"/><use href="#d" x="681" y="462"/><use href="#d" x="681" y="464"/><use href="#d" x="681" y="466"/><use href="#d" x="681" y="468"/><use href="#d" x="681" y="470"/><use href="#d" x="681" y="472"/><use href="#d" x="681" y="474"/><use href="#d" x="681" y="475"/><use href="#d" x="682" y="463"/><use href="#d" x="682" y="465"/><use href="#d" x="682" y="467"/><use href="#d" x="682" y="469"/><use href="#d" x="682" y="471"/><use href="#d" x="682" y="473"/><use href="#d" x="682" y="475"/><use href="#d" x="682" y="477"/><use href="#d" x="683" y="464"/><use href="#d" x="683" y="466"/><use href="#d" x="683" y="468"/><use href="#d" x="683" y="470"/><use href="#d" x="683" y="472"/><use href="#d" x="683" y="474"/><use href="#d" x="683" y="476"/><use href="#d" x="683" y="478"/><use href="#d" x="684" y="465"/><use href="#d" x="684" y="467"/><use href="#d" x="684" y="469"/><use href="#d" x="684" y="471"/><use href="#d" x="684" y="473"/><use href="#d" x="684" y="475"/><use href="#d" x="684" y="477"/><use href="#d" x="684" y="478"/><use href="#d" x="685" y="465"/><use href="#d" x="685" y="467"/><use href="#d" x="685" y="469"/><use href="#d" x="685" y="471"/><use href="#d" x="685" y="473"/><use href="#d" x="685" y="475"/><use href="#d" x="685" y="477"/><use href="#d" x="685" y="478"/><use href="#d" x="686" y="466"/><use href="#d" x="686" y="468"/><use href="#d" x="686" y="470"/><use href="#d" x="686" y="472"/><use href="#d" x="686" y="474"/><use href="#d" x="686" y="476"/><use href="#d" x="686" y="477"/><use href="#d" x="686" y="493"/><use href="#d" x="687" y="467"/><use href="#d" x="687" y="469"/><use href="#d" x="687" y="471"/><use href="#d" x="687" y="473"/><use href="#d" x="687" y="475"/><use href="#d" x="687" y="477"/><use href="#d" x="687" y="478"/><use href="#d" x="687" y="493"/><use href="#d" x="688" y="465"/><use href="#d" x="688" y="467"/><use href="#d" x="688" y="469"/><use href="#d" x="688" y="471"/><use href="#d" x="688" y="473"/><use href="#d" x="688" y="475"/><use href="#d" x="688" y="477"/><use href="#d" x="688" y="479"/><use href="#d" x="688" y="493"/><use href="#d" x="689" y="468"/><use href="#d" x="689" y="470"/><use href="#d" x="689" y="472"/><use href="#d" x="689" y="474"/><use href="#d" x="689" y="476"/><use href="#d" x="689" y="478"/><use href="#d" x="689" y="480"/><use href="#d" x="689" y="493"/><use href="#d" x="690" y="469"/><use href="#d" x="690" y="471"/><use href="#d" x="690" y="473"/><use href="#d" x="690" y="475"/><use href="#d" x="690" y="477"/><use href="#d" x="690" y="479"/><use href="#d" x="690" y="481"/><use href="#d" x="690" y="483"/><use href="#d" x="690" y="485"/><use href="#d" x="690" y="487"/><use href="#d" x="690" y="493"/><use href="#d" x="691" y="470"/><use href="#d" x="691" y="472"/><use href="#d" x="691" y="474"/><use href="#d" x="691" y="476"/><use href="#d" x="691" y="478"/><use href="#d" x="691" y="480"/><use href="#d" x="691" y="482"/><use href="#d" x="691" y="484"/><use href="#d" x="691" y="486"/><use href="#d" x="691" y="487"/><use href="#d" x="691" y="493"/><use href="#d" x="692" y="470"/><use href="#d" x="692" y="472"/><use href="#d" x="692" y="474"/><use href="#d" x="692" y="476"/><use href="#d" x="692" y="478"/><use href="#d" x="692" y="480"/><use href="#d" x="692" y="482"/><use href="#d" x="692" y="484"/><use href="#d" x="692" y="486"/><use href="#d" x="692" y="487"/><use href="#d" x="692" y="493"/><use href="#d" x="692" y="504"/><use href="#d" x="693" y="470"/><use href="#d" x="693" y="472"/><use href="#d" x="693" y="474"/><use href="#d" x="693" y="476"/><use href="#d" x="693" y="478"/><use href="#d" x="693" y="480"/><use href="#d" x="693" y="482"/><use href="#d" x="693" y="484"/><use href="#d" x="693" y="486"/><use href="#d" x="693" y="487"/><use href="#d" x="693" y="493"/><use href="#d" x="693" y="504"/><use href="#d" x="694" y="470"/><use href="#d" x="694" y="472"/><use href="#d" x="694" y="474"/><use href="#d" x="694" y="476"/><use href="#d" x="694" y="478"/><use href="#d" x="694" y="480"/><use href="#d" x="694" y="482"/><use href="#d" x="694" y="484"/><use href="#d" x="694" y="486"/><use href="#d" x="694" y="487"/><use href="#d" x="694" y="493"/><use href="#d" x="694" y="504"/><use href="#d" x="695" y="470"/><use href="#d" x="695" y="472"/><use href="#d" x="695" y="474"/><use href="#d" x="695" y="476"/><use href="#d" x="695" y="478"/><use href="#d" x="695" y="480"/><use href="#d" x="695" y="482"/><use href="#d" x="695" y="484"/><use href="#d" x="695" y="486"/><use href="#d" x="695" y="487"/><use href="#d" x="695" y="493"/><use href="#d" x="695" y="504"/><use href="#d" x="696" y="469"/><use href="#d" x="696" y="471"/><use href="#d" x="696" y="473"/><use href="#d" x="696" y="475"/><use href="#d" x="696" y="477"/><use href="#d" x="696" y="479"/><use href="#d" x="696" y="481"/><use href="#d" x="696" y="483"/><use href="#d" x="696" y="485"/><use href="#d" x="696" y="487"/><use href="#d" x="696" y="504"/><use href="#d" x="697" y="472"/><use href="#d" x="697" y="474"/><use href="#d" x="697" y="476"/><use href="#d" x="697" y="478"/><use href="#d" x="697" y="480"/><use href="#d" x="697" y="482"/><use href="#d" x="697" y="484"/><use href="#d" x="697" y="486"/><use href="#d" x="697" y="487"/><use href="#d" x="697" y="493"/><use href="#d" x="697" y="504"/><use href="#d" x="698" y="473"/><use href="#d" x="698" y="475"/><use href="#d" x="698" y="477"/><use href="#d" x="698" y="479"/><use href="#d" x="698" y="481"/><use href="#d" x="698" y="483"/><use href="#d" x="698" y="485"/><use href="#d" x="698" y="487"/><use href="#d" x="698" y="493"/><use href="#d" x="698" y="504"/><use href="#d" x="699" y="473"/><use href="#d" x="699" y="475"/><use href="#d" x="699" y="477"/><use href="#d" x="699" y="479"/><use href="#d" x="699" y="481"/><use href="#d" x="699" y="483"/><use href="#d" x="699" y="485"/><use href="#d" x="699" y="487"/><use href="#d" x="699" y="493"/><use href="#d" x="699" y="504"/><use href="#d" x="700" y="473"/><use href="#d" x="700" y="475"/><use href="#d" x="700" y="477"/><use href="#d" x="700" y="479"/><use href="#d" x="700" y="481"/><use href="#d" x="700" y="483"/><use href="#d" x="700" y="485"/><use href="#d" x="700" y="487"/><use href="#d" x="700" y="493"/><use href="#d" x="700" y="504"/><use href="#d" x="701" y="474"/><use href="#d" x="701" y="476"/><use href="#d" x="701" y="478"/><use href="#d" x="701" y="480"/><use href="#d" x="701" y="482"/><use href="#d" x="701" y="484"/><use href="#d" x="701" y="486"/><use href="#d" x="701" y="487"/><use href="#d" x="701" y="493"/><use href="#d" x="701" y="504"/><use href="#d" x="702" y="474"/><use href="#d" x="702" y="476"/><use href="#d" x="702" y="478"/><use href="#d" x="702" y="480"/><use href="#d" x="702" y="482"/><use href="#d" x="702" y="484"/><use href="#d" x="702" y="486"/><use href="#d" x="702" y="487"/><use href="#d" x="702" y="493"/><use href="#d" x="702" y="504"/><use href="#d" x="703" y="472"/><use href="#d" x="703" y="474"/><use href="#d" x="703" y="476"/><use href="#d" x="703" y="478"/><use href="#d" x="703" y="480"/><use href="#d" x="703" y="482"/><use href="#d" x="703" y="484"/><use href="#d" x="703" y="486"/><use href="#d" x="703" y="487"/><use href="#d" x="703" y="493"/><use href="#d" x="703" y="504"/><use href="#d" x="704" y="474"/><use href="#d" x="704" y="476"/><use href="#d" x="704" y="478"/><use href="#d" x="704" y="480"/><use href="#d" x="704" y="482"/><use href="#d" x="704" y="484"/><use href="#d" x="704" y="486"/><use href="#d" x="704" y="487"/><use href="#d" x="704" y="493"/><use href="#d" x="704" y="504"/><use href="#d" x="705" y="474"/><use href="#d" x="705" y="476"/><use href="#d" x="705" y="478"/><use href="#d" x="705" y="480"/><use href="#d" x="705" y="482"/><use href="#d" x="705" y="484"/><use href="#d" x="705" y="486"/><use href="#d" x="705" y="487"/><use href="#d" x="705" y="493"/><use href="#d" x="705" y="504"/><use href="#d" x="706" y="474"/><use href="#d" x="706" y="476"/><use href="#d" x="706" y="478"/><use href="#d" x="706" y="480"/><use href="#d" x="706" y="482"/><use href="#d" x="706" y="484"/><use href="#d" x="706" y="486"/><use href="#d" x="706" y="487"/><use href="#d" x="706" y="493"/><use href="#d" x="706" y="504"/><use href="#d" x="707" y="474"/><use href="#d" x="707" y="476"/><use href="#d" x="707" y="478"/><use href="#d" x="707" y="480"/><use href="#d" x="707" y="482"/><use href="#d" x="707" y="484"/><use href="#d" x="707" y="486"/><use href="#d" x="707" y="487"/><use href="#d" x="707" y="493"/><use href="#d" x="707" y="504"/><use href="#d" x="708" y="472"/><use href="#d" x="708" y="476"/><use href="#d" x="708" y="478"/><use href="#d" x="708" y="480"/><use href="#d" x="708" y="482"/><use href="#d" x="708" y="484"/><use href="#d" x="708" y="486"/><use href="#d" x="708" y="487"/><use href="#d" x="708" y="493"/><use href="#d" x="708" y="504"/><use href="#d" x="709" y="478"/><use href="#d" x="709" y="480"/><use href="#d" x="709" y="482"/><use href="#d" x="709" y="484"/><use href="#d" x="709" y="486"/><use href="#d" x="709" y="487"/><use href="#d" x="709" y="493"/><use href="#d" x="709" y="504"/><use href="#d" x="710" y="480"/><use href="#d" x="710" y="482"/><use href="#d" x="710" y="484"/><use href="#d" x="710" y="486"/><use href="#d" x="710" y="487"/><use href="#d" x="710" y="493"/><use href="#d" x="710" y="504"/><use href="#d" x="711" y="481"/><use href="#d" x="711" y="483"/><use href="#d" x="711" y="485"/><use href="#d" x="711" y="487"/><use href="#d" x="711" y="493"/><use href="#d" x="711" y="504"/><use href="#d" x="712" y="481"/><use href="#d" x="712" y="483"/><use href="#d" x="712" y="485"/><use href="#d" x="712" y="487"/><use href="#d" x="712" y="493"/><use href="#d" x="712" y="504"/><use href="#d" x="713" y="482"/><use href="#d" x="713" y="484"/><use href="#d" x="713" y="486"/><use href="#d" x="713" y="487"/><use href="#d" x="713" y="493"/><use href="#d" x="713" y="504"/><use href="#d" x="714" y="482"/><use href="#d" x="714" y="484"/><use href="#d" x="714" y="486"/><use href="#d" x="714" y="487"/><use href="#d" x="714" y="493"/><use href="#d" x="714" y="504"/><use href="#d" x="715" y="482"/><use href="#d" x="715" y="484"/><use href="#d" x="715" y="486"/><use href="#d" x="715" y="487"/><use href="#d" x="715" y="493"/><use href="#d" x="715" y="504"/><use href="#d" x="716" y="479"/><use href="#d" x="716" y="481"/><use href="#d" x="716" y="483"/><use href="#d" x="716" y="485"/><use href="#d" x="716" y="487"/><use href="#d" x="716" y="493"/><use href="#d" x="716" y="504"/><use href="#d" x="717" y="476"/><use href="#d" x="717" y="478"/><use href="#d" x="717" y="480"/><use href="#d" x="717" y="482"/><use href="#d" x="717" y="484"/><use href="#d" x="717" y="486"/><use href="#d" x="717" y="487"/><use href="#d" x="717" y="493"/><use href="#d" x="717" y="504"/><use href="#d" x="718" y="475"/><use href="#d" x="718" y="476"/><use href="#d" x="718" y="478"/><use href="#d" x="718" y="480"/><use href="#d" x="718" y="482"/><use href="#d" x="718" y="484"/><use href="#d" x="718" y="486"/><use href="#d" x="718" y="487"/><use href="#d" x="718" y="493"/><use href="#d" x="718" y="504"/><use href="#d" x="719" y="475"/><use href="#d" x="719" y="477"/><use href="#d" x="719" y="479"/><use href="#d" x="719" y="481"/><use href="#d" x="719" y="483"/><use href="#d" x="719" y="485"/><use href="#d" x="719" y="487"/><use href="#d" x="719" y="493"/><use href="#d" x="719" y="504"/></g>
<path fill="none" stroke="#000" stroke-width="0.694" d="M538.5 540.5L538.5 534.94M538.5 322.5L538.5 328.06M556.5 540.5L556.5 537.72M556.5 322.5L556.5 325.28M567.5 540.5L567.5 537.72M567.5 322.5L567.5 325.28M574.5 540.5L574.5 537.72M574.5 322.5L574.5 325.28M580.5 540.5L580.5 537.72M580.5 322.5L580.5 325.28M585.5 540.5L585.5 537.72M585.5 322.5L585.5 325.28M589.5 540.5L589.5 537.72M589.5 322.5L589.5 325.28M593.5 540.5L593.5 537.72M593.5 322.5L593.5 325.28M596.5 540.5L596.5 537.72M596.5 322.5L596.5 325.28M598.5 540.5L598.5 534.94M598.5 322.5L598.5 328.06M617.5 540.5L617.5 537.72M617.5 322.5L617.5 325.28M627.5 540.5L627.5 537.72M627.5 322.5L627.5 325.28M635.5 540.5L635.5 537.72M635.5 322.5L635.5 325.28M641.5 540.5L641.5 537.72M641.5 322.5L641.5 325.28M646.5 540.5L646.5 537.72M646.5 322.5L646.5 325.28M650.5 540.5L650.5 537.72M650.5 322.5L650.5 325.28M653.5 540.5L653.5 537.72M653.5 322.5L653.5 325.28M656.5 540.5L656.5 537.72M656.5 322.5L656.5 325.28M659.5 540.5L659.5 534.94M659.5 322.5L659.5 328.06M678.5 540.5L678.5 537.72M678.5 322.5L678.5 325.28M688.5 540.5L688.5 537.72M688.5 322.5L688.5 325.28M696.5 540.5L696.5 537.72M696.5 322.5L696.5 325.28M702.5 540.5L702.5 537.72M702.5 322.5L702.5 325.28M707.5 540.5L707.5 537.72M707.5 322.5L707.5 325.28M711.5 540.5L711.5 537.72M711.5 322.5L711.5 325.28M714.5 540.5L714.5 537.72M714.5 322.5L714.5 325.28M717.5 540.5L717.5 537.72M717.5 322.5L717.5 325.28M720.5 540.5L720.5 534.94M720.5 322.5L720.5 328.06M538.5 540.5L544.06 540.5M720.5 540.5L714.94 540.5M538.5 529.5L541.28 529.5M720.5 529.5L717.72 529.5M538.5 523.5L541.28 523.5M720.5 523.5L717.72 523.5M538.5 518.5L541.28 518.5M720.5 518.5L717.72 518.5M538.5 515.5L541.28 515.5M720.5 515.5L717.72 515.5M538.5 512.5L541.28 512.5M720.5 512.5L717.72 512.5M538.5 509.5L541.28 509.5M720.5 509.5L717.72 509.5M538.5 507.5L541.28 507.5M720.5 507.5L717.72 507.5M538.5 505.5L541.28 505.5M720.5 505.5L717.72 505.5M538.5 504.5L544.06 504.5M720.5 504.5L714.94 504.5M538.5 493.5L541.28 493.5M720.5 493.5L717.72 493.5M538.5 486.5L541.28 486.5M720.5 486.5L717.72 486.5M538.5 482.5L541.28 482.5M720.5 482.5L717.72 482.5M538.5 478.5L541.28 478.5M720.5 478.5L717.72 478.5M538.5 475.5L541.28 475.5M720.5 475.5L717.72 475.5M538.5 473.5L541.28 473.5M720.5 473.5L717.72 473.5M538.5 471.5L541.28 471.5M720.5 471.5L717.72 471.5M538.5 469.5L541.28 469.5M720.5 469.5L717.72 469.5M538.5 467.5L544.06 467.5M720.5 467.5L714.94 467.5M538.5 456.5L541.28 456.5M720.5 456.5L717.72 456.5M538.5 450.5L541.28 450.5M720.5 450.5L717.72 450.5M538.5 445.5L541.28 445.5M720.5 445.5L717.72 445.5M538.5 442.5L541.28 442.5M720.5 442.5L717.72 442.5M538.5 439.5L541.28 439.5M720.5 439.5L717.72 439.5M538.5 437.5L541.28 437.5M720.5 437.5L717.72 437.5M538.5 434.5L541.28 434.5M720.5 434.5L717.72 434.5M538.5 433.5L541.28 433.5M720.5 433.5L717.72 433.5M538.5 431.5L544.06 431.5M720.5 431.5L714.94 431.5M538.5 420.5L541.28 420.5M720.5 420.5L717.72 420.5M538.5 414.5L541.28 414.5M720.5 414.5L717.72 414.5M538.5 409.5L541.28 409.5M720.5 409.5L717.72 409.5M538.5 405.5L541.28 405.5M720.5 405.5L717.72 405.5M538.5 403.5L541.28 403.5M720.5 403.5L717.72 403.5M538.5 400.5L541.28 400.5M720.5 400.5L717.72 400.5M538.5 398.5L541.28 398.5M720.5 398.5L717.72 398.5M538.5 396.5L541.28 396.5M720.5 396.5L717.72 396.5M538.5 395.5L544.06 395.5M720.5 395.5L714.94 395.5M538.5 384.5L541.28 384.5M720.5 384.5L717.72 384.5M538.5 377.5L541.28 377.5M720.5 377.5L717.72 377.5M538.5 373.5L541.28 373.5M720.5 373.5L717.72 373.5M538.5 369.5L541.28 369.5M720.5 369.5L717.72 369.5M538.5 366.5L541.28 366.5M720.5 366.5L717.72 366.5M538.5 364.5L541.28 364.5M720.5 364.5L717.72 364.5M538.5 362.5L541.28 362.5M720.5 362.5L717.72 362.5M538.5 360.5L541.28 360.5M720.5 360.5L717.72 360.5M538.5 358.5L544.06 358.5M720.5 358.5L714.94 358.5M538.5 347.5L541.28 347.5M720.5 347.5L717.72 347.5M538.5 341.5L541.28 341.5M720.5 341.5L717.72 341.5M538.5 336.5L541.28 336.5M720.5 336.5L717.72 336.5M538.5 333.5L541.28 333.5M720.5 333.5L717.72 333.5M538.5 330.5L541.28 330.5M720.5 330.5L717.72 330.5M538.5 327.5L541.28 327.5M720.5 327.5L717.72 327.5M538.5 325.5L541.28 325.5M720.5 325.5L717.72 325.5M538.5 323.5L541.28 323.5M720.5 323.5L717.72 323.5M538.5 322.5L544.06 322.5M720.5 322.5L714.94 322.5"/>
<rect x="538.5" y="322.5" width="182" height="218" fill="none" stroke="#000" stroke-width="1.389"/>
<text x="531.5" y="547.25" text-anchor="end" font-size="16.67">1<tspan dx="-0.5">0</tspan><tspan font-size="11.67" dy="-8" dx="0">-7</tspan></text>
<text x="531.5" y="511.25" text-anchor="end" font-size="16.67">1<tspan dx="-0.5">0</tspan><tspan font-size="11.67" dy="-8" dx="0">-6</tspan></text>
<text x="531.5" y="474.25" text-anchor="end" font-size="16.67">1<tspan dx="-0.5">0</tspan><tspan font-size="11.67" dy="-8" dx="0">-5</tspan></text>
<text x="531.5" y="438.25" text-anchor="end" font-size="16.67">1<tspan dx="-0.5">0</tspan><tspan font-size="11.67" dy="-8" dx="0">-4</tspan></text>
<text x="531.5" y="402.25" text-anchor="end" font-size="16.67">1<tspan dx="-0.5">0</tspan><tspan font-size="11.67" dy="-8" dx="0">-3</tspan></text>
<text x="531.5" y="365.25" text-anchor="end" font-size="16.67">1<tspan dx="-0.5">0</tspan><tspan font-size="11.67" dy="-8" dx="0">-2</tspan></text>
<text x="531.5" y="329.25" text-anchor="end" font-size="16.67">1<tspan dx="-0.5">0</tspan><tspan font-size="11.67" dy="-8" dx="0">-1</tspan></text>
<text x="538.5" y="564.4" text-anchor="middle" font-size="16.67">1<tspan dx="-0.8">0</tspan><tspan font-size="11.67" dy="-8" dx="0.65">0</tspan></text>
<text x="598.5" y="564.4" text-anchor="middle" font-size="16.67">1<tspan dx="-0.8">0</tspan><tspan font-size="11.67" dy="-8" dx="0.65">1</tspan></text>
<text x="659.5" y="564.4" text-anchor="middle" font-size="16.67">1<tspan dx="-0.8">0</tspan><tspan font-size="11.67" dy="-8" dx="0.65">2</tspan></text>
<text x="720.5" y="564.4" text-anchor="middle" font-size="16.67">1<tspan dx="-0.8">0</tspan><tspan font-size="11.67" dy="-8" dx="0.65">3</tspan></text>
<text x="628.824" y="314.9" text-anchor="middle" font-size="20">Bus</text>
<text x="629.524" y="586.9" text-anchor="middle" font-size="16.67">maxV (km/h)</text>
</svg></body></html>
